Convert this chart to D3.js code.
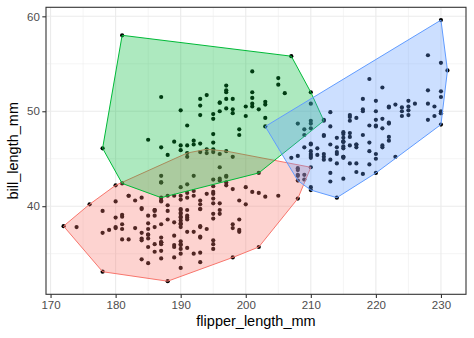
<!DOCTYPE html>
<html>
<head>
<meta charset="utf-8">
<script src="https://cdn.jsdelivr.net/npm/d3@7"></script>
<style>
  html, body { margin: 0; padding: 0; background: #ffffff; }
  svg { display: block; font-family: "Liberation Sans", Arial, sans-serif; }
</style>
</head>
<body>
<svg id="chart" width="474" height="338"></svg>
<script>
// Palmer penguins: flipper length vs bill length, one convex hull per species
const species = ["Adelie", "Chinstrap", "Gentoo"];
const speciesFill = ["#F8766D", "#00BA38", "#619CFF"];

const adelieFlipper = [181,186,195,193,190,181,195,193,190,186,180,182,191,198,185,195,197,184,194,174,180,189,185,180,187,183,187,172,180,178,178,188,184,195,196,190,180,181,184,182,195,186,196,185,190,182,179,190,191,186,188,190,200,187,191,186,193,181,194,185,195,185,192,184,192,195,188,190,198,190,190,196,197,190,195,191,184,187,195,189,196,187,193,191,194,190,189,189,190,202,205,185,186,187,208,190,196,178,192,192,203,183,190,193,184,199,190,181,197,198,191,193,197,191,196,188,199,189,189,187,198,176,202,186,199,191,195,191,210,190,197,193,199,187,190,191,200,185,193,193,187,188,190,192,185,190,184,195,193,187,201];
const adelieBill = [39.1,39.5,40.3,36.7,39.3,38.9,39.2,34.1,42.0,37.8,37.8,41.1,38.6,34.6,36.6,38.7,42.5,34.4,46.0,37.8,37.7,35.9,38.2,38.8,35.3,40.6,40.5,37.9,40.5,39.5,37.2,39.5,40.9,36.4,39.2,38.8,42.2,37.6,39.8,36.5,40.8,36.0,44.1,37.0,39.6,41.1,37.5,36.0,42.3,39.6,40.1,35.0,42.0,34.5,41.4,39.0,40.6,36.5,37.6,35.7,41.3,37.6,41.1,36.4,41.6,35.5,41.1,35.9,41.8,33.5,39.7,39.6,45.8,35.5,42.8,40.9,37.2,36.2,42.1,34.6,42.9,36.7,35.1,37.3,41.3,36.3,36.9,38.3,38.9,35.7,41.1,34.0,39.6,36.2,40.8,38.1,40.3,33.1,43.2,35.0,41.0,37.7,37.8,37.9,39.7,38.6,38.2,38.1,43.2,38.1,45.6,39.7,42.2,39.6,42.7,38.6,37.3,35.7,41.1,36.2,37.7,40.2,41.4,35.2,40.6,38.8,41.5,39.0,44.1,38.5,43.1,36.8,37.5,38.1,41.1,35.6,40.2,37.0,39.7,40.2,40.6,32.1,40.7,37.3,39.0,39.2,36.6,36.0,37.8,36.0,41.5];

const chinstrapFlipper = [192,196,193,188,197,198,178,197,195,198,193,194,185,201,190,201,197,181,190,195,181,191,187,193,195,197,200,200,191,205,187,201,187,203,195,199,195,210,192,205,210,187,196,196,196,201,190,212,187,198,199,201,193,203,187,197,191,203,202,194,206,189,195,207,202,193,210,198];
const chinstrapBill = [46.5,50.0,51.3,45.4,52.7,45.2,46.1,51.3,46.0,51.3,46.6,51.7,47.0,52.0,45.9,50.5,50.3,58.0,46.4,49.2,42.4,48.5,43.2,50.6,46.7,52.0,50.5,49.5,46.4,52.8,40.9,54.2,42.5,51.0,49.7,47.5,47.6,52.0,46.9,53.5,49.0,46.2,50.9,45.5,50.9,50.8,50.1,49.0,51.5,49.8,48.1,51.4,45.7,50.7,42.5,52.2,45.2,49.3,50.2,45.6,51.9,46.8,45.7,55.8,43.5,49.6,50.8,50.2];

const gentooFlipper = [211,230,210,218,215,210,211,219,209,215,214,216,214,213,210,217,210,221,209,222,218,215,213,215,215,215,216,215,210,220,222,209,207,230,220,220,213,219,208,208,208,225,210,216,222,217,210,225,213,215,210,220,210,225,217,220,208,220,208,224,208,221,214,231,219,230,214,229,220,223,216,221,221,217,216,230,209,220,215,223,212,221,212,224,212,228,218,218,212,230,218,228,212,224,214,226,216,222,203,225,219,228,215,228,216,215,210,219,208,209,229,230,213,230,217,230,217,222,214,215,222,212,213];
const gentooBill = [46.1,50.0,48.7,50.0,47.6,46.5,45.4,46.7,43.3,46.8,40.9,49.0,45.5,48.4,45.8,49.3,42.0,49.2,46.2,48.7,50.2,45.1,46.5,46.3,42.9,46.1,44.5,47.8,48.2,50.0,47.3,42.8,45.1,59.6,49.1,48.4,42.6,44.4,44.0,48.7,42.7,49.6,45.3,49.6,50.5,43.6,45.5,50.5,44.9,45.2,46.6,48.5,45.1,50.1,46.5,45.0,43.8,45.5,43.2,50.4,45.3,46.2,45.7,54.3,45.8,49.8,46.2,49.5,43.5,50.7,47.7,46.4,48.2,46.5,46.4,48.6,47.5,51.1,45.2,45.2,49.1,52.5,47.4,50.0,44.9,50.8,43.4,51.3,47.5,52.1,47.5,52.2,45.5,49.5,44.5,50.8,49.4,46.9,48.4,51.1,48.5,55.9,47.2,49.1,47.3,46.8,41.7,53.4,43.3,48.1,50.5,49.8,43.5,51.5,46.2,55.1,44.5,48.8,47.2,46.8,50.4,45.2,49.9];

const xTicks = [170, 180, 190, 200, 210, 220, 230];
const xMinorTicks = [175, 185, 195, 205, 215, 225];
const yTicks = [40, 50, 60];
const yMinorTicks = [35, 45, 55];

const groups = [
  { name: species[0], fill: speciesFill[0], x: adelieFlipper, y: adelieBill },
  { name: species[1], fill: speciesFill[1], x: chinstrapFlipper, y: chinstrapBill },
  { name: species[2], fill: speciesFill[2], x: gentooFlipper, y: gentooBill }
].map(g => ({ ...g, points: g.x.map((v, i) => [v, g.y[i]]) }));

const svg = d3.select("#chart");
const panel = { left: 46, right: 466, top: 7.3, bottom: 294.3 };

const x = d3.scaleLinear().domain([169.3, 233.85]).range([panel.left, panel.right]);
const y = d3.scaleLinear().domain([30.72, 60.95]).range([panel.bottom, panel.top]);

// panel background
svg.append("rect")
  .attr("x", panel.left).attr("y", panel.top)
  .attr("width", panel.right - panel.left).attr("height", panel.bottom - panel.top)
  .attr("fill", "#ffffff");

// grid lines
const grid = svg.append("g");
grid.selectAll(".xminor").data(xMinorTicks).join("line")
  .attr("x1", d => x(d)).attr("x2", d => x(d))
  .attr("y1", panel.top).attr("y2", panel.bottom)
  .attr("stroke", "#ebebeb").attr("stroke-width", 0.55);
grid.selectAll(".yminor").data(yMinorTicks).join("line")
  .attr("y1", d => y(d)).attr("y2", d => y(d))
  .attr("x1", panel.left).attr("x2", panel.right)
  .attr("stroke", "#ebebeb").attr("stroke-width", 0.55);
grid.selectAll(".xmajor").data(xTicks).join("line")
  .attr("x1", d => x(d)).attr("x2", d => x(d))
  .attr("y1", panel.top).attr("y2", panel.bottom)
  .attr("stroke", "#ebebeb").attr("stroke-width", 1.1);
grid.selectAll(".ymajor").data(yTicks).join("line")
  .attr("y1", d => y(d)).attr("y2", d => y(d))
  .attr("x1", panel.left).attr("x2", panel.right)
  .attr("stroke", "#ebebeb").attr("stroke-width", 1.1);

// points first, then the translucent hulls over them
const pts = svg.append("g");
groups.forEach(g => {
  pts.selectAll(null).data(g.points).join("circle")
    .attr("cx", d => x(d[0])).attr("cy", d => y(d[1]))
    .attr("r", 2.1).attr("fill", "#000000");
});

const hulls = svg.append("g");
groups.forEach(g => {
  const hull = d3.polygonHull(g.points.map(d => [x(d[0]), y(d[1])]));
  hulls.append("path")
    .attr("d", "M" + hull.map(p => p.join(",")).join("L") + "Z")
    .attr("fill", g.fill).attr("fill-opacity", 0.32)
    .attr("stroke", g.fill).attr("stroke-width", 1)
    .attr("stroke-linejoin", "round");
});

// panel border
svg.append("rect")
  .attr("x", panel.left).attr("y", panel.top)
  .attr("width", panel.right - panel.left).attr("height", panel.bottom - panel.top)
  .attr("fill", "none").attr("stroke", "#333333").attr("stroke-width", 1.1);

// axes
const xAxis = svg.append("g")
  .attr("transform", `translate(0,${panel.bottom})`)
  .call(d3.axisBottom(x).tickValues(xTicks).tickSize(3.7).tickPadding(2.5).tickFormat(d3.format("d")));
const yAxis = svg.append("g")
  .attr("transform", `translate(${panel.left},0)`)
  .call(d3.axisLeft(y).tickValues(yTicks).tickSize(3.7).tickPadding(2.5).tickFormat(d3.format("d")));
[xAxis, yAxis].forEach(a => {
  a.select(".domain").remove();
  a.selectAll(".tick line").attr("stroke", "#333333").attr("stroke-width", 1.1);
  a.selectAll(".tick text")
    .attr("fill", "#4d4d4d")
    .style("font-size", "11.5px")
    .style("font-family", "'Liberation Sans', Arial, sans-serif");
});

// axis titles
svg.append("text")
  .attr("x", (panel.left + panel.right) / 2).attr("y", 326)
  .attr("text-anchor", "middle")
  .style("font-size", "14.5px").attr("fill", "#000000")
  .text("flipper_length_mm");
svg.append("text")
  .attr("transform", `translate(18,${(panel.top + panel.bottom) / 2}) rotate(-90)`)
  .attr("text-anchor", "middle")
  .style("font-size", "14.5px").attr("fill", "#000000")
  .text("bill_length_mm");
</script>
</body>
</html>
